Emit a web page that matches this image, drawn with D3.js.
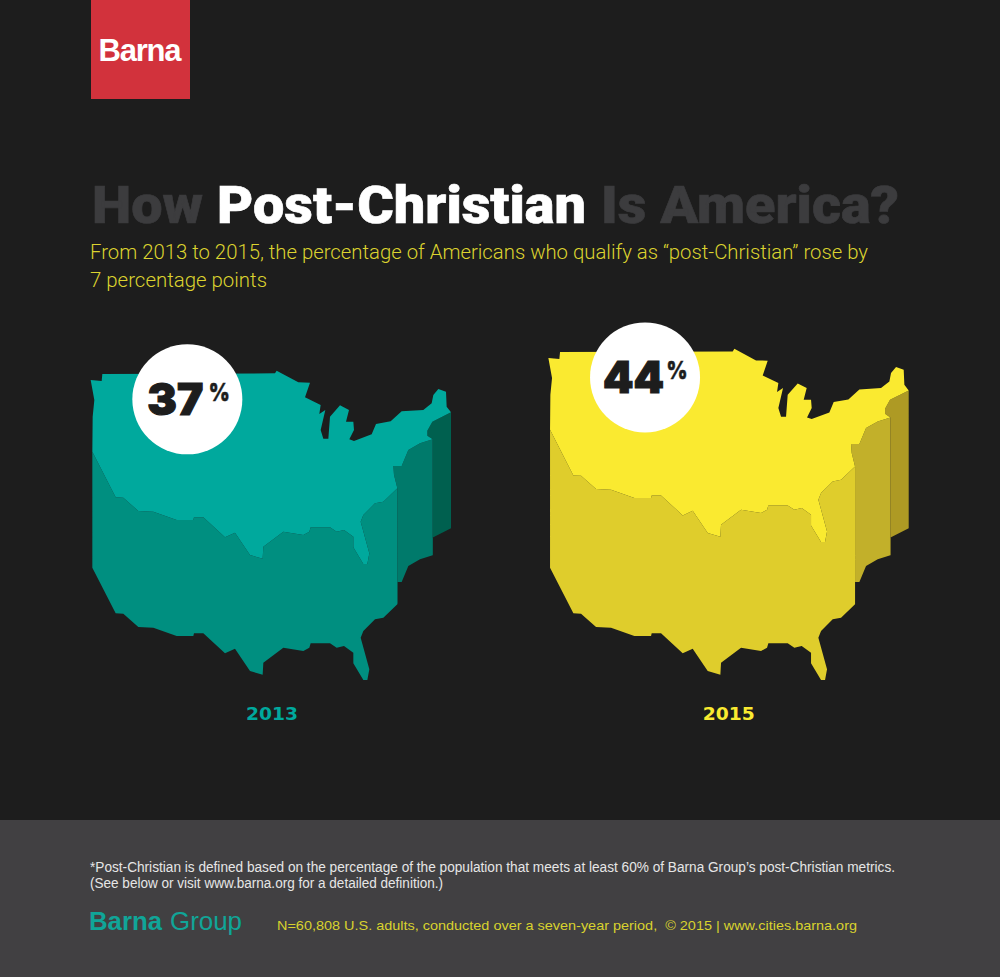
<!DOCTYPE html>
<html>
  <head>
    <meta charset="utf-8" />
    <script src="https://d3js.org/d3.v7.min.js"></script>
    <style>
      html, body { margin: 0; padding: 0; background: #1d1d1d; }
      svg { display: block; }
    </style>
  </head>
  <body>
    <svg id="chart" width="1000" height="977"></svg>
    <script>
      // values
      const years = ["2013", "2015"];
      const shares = [37, 44];

      // map outline, split into the stretches that get their own wall (map units)
      const northBorder = [
        [62, 120], [95, 123], [97, 102], [615, 100], [620, 92], [685, 127], [720, 128],
        [705, 172], [752, 195], [748, 222], [766, 210], [752, 270], [760, 296], [775, 296],
        [780, 230], [810, 196], [837, 210], [828, 245], [850, 245], [852, 270], [838, 298],
        [852, 303], [905, 283], [918, 252], [962, 244], [995, 214], [1060, 210], [1085, 190],
        [1090, 165], [1105, 147], [1128, 155], [1130, 200], [1143, 217],
      ];
      const newEngland = [
        [1143, 217], [1087, 245], [1072, 272], [1072, 287], [1088, 298],
      ];
      const midAtlantic = [
        [1088, 298], [1050, 310], [1015, 330], [995, 378], [970, 378], [972, 405], [982, 445],
      ];
      const southCoast = [
        [982, 445], [940, 485], [915, 490], [880, 525], [872, 545], [898, 640], [892, 672],
        [880, 672], [850, 622], [850, 590], [822, 570], [800, 575], [780, 562], [722, 562],
        [718, 575], [700, 585], [640, 575], [580, 620], [578, 656], [540, 645], [495, 578],
        [465, 592], [400, 532], [372, 532], [370, 540], [320, 540], [250, 515], [205, 513],
        [160, 473], [137, 472], [67, 335],
      ];
      const westCoast = [
        [67, 335], [68, 230], [73, 180], [62, 120],
      ];

      const titleParts = ["How", "Post-Christian", "Is America?"];
      const subtitleLines = [
        "From 2013 to 2015, the percentage of Americans who qualify as “post-Christian” rose by",
        "7 percentage points",
      ];
      const noteLines = [
        "*Post-Christian is defined based on the percentage of the population that meets at least 60% of Barna Group’s post-Christian metrics.",
        "(See below or visit www.barna.org for a detailed definition.)",
      ];
      const sourceLine = "N=60,808 U.S. adults, conducted over a seven-year period,  © 2015 | www.cities.barna.org";

      const palettes = [
        { top: "#00a99d", front: "#008f80", mid: "#007a6b", side: "#00604f" },
        { top: "#faea30", front: "#dfcd2c", mid: "#c2b02a", side: "#ae9a24" },
      ];

      const svg = d3.select("#chart");

      function addText(parent, str, x, y, size, family, weight, fill, width, thicken) {
        const t = parent
          .append("text")
          .attr("x", x)
          .attr("y", y)
          .style("font-family", family)
          .style("font-size", size + "px")
          .style("font-weight", weight)
          .style("fill", fill)
          .attr("xml:space", "preserve")
          .text(str);
        if (width) t.attr("textLength", width).attr("lengthAdjust", "spacingAndGlyphs");
        if (thicken) t.style("stroke", fill).style("stroke-width", thicken).style("stroke-linejoin", "miter");
        return t;
      }

      // background and footer band
      svg.append("rect").attr("width", 1000).attr("height", 977).attr("fill", "#1d1d1d");
      svg.append("rect").attr("y", 820).attr("width", 1000).attr("height", 157).attr("fill", "#414042");

      // logo
      svg.append("rect").attr("x", 91).attr("width", 99).attr("height", 99).attr("fill", "#d2323c");
      addText(svg, "Barna", 98.5, 61, 31, "Liberation Sans", 700, "#fff")
        .attr("textLength", 83)
        .attr("lengthAdjust", "spacing");

      // title
      const titleFont = "Roboto";
      addText(svg, titleParts[0], 92, 223, 51, titleFont, 900, "#3c3c3e", 111, 0.6);
      addText(svg, titleParts[1], 217, 223, 51, titleFont, 900, "#ffffff", 369, 0.6);
      addText(svg, titleParts[2], 601, 223, 51, titleFont, 900, "#3c3c3e", 298, 0.6);

      addText(svg, subtitleLines[0], 90, 259, 21, "Roboto", 300, "#dcd32f", 778);
      addText(svg, subtitleLines[1], 90, 287, 21, "Roboto", 300, "#dcd32f", 177);

      // one extruded map per year, wall height comes from the share
      const riseScale = d3.scaleLinear().domain([0, 100]).range([0, 313.5]);
      const mapLeft = [70, 527.7];

      years.forEach((year, i) => {
        const colors = palettes[i];
        const xScale = d3.scaleLinear().domain([0, 1200]).range([mapLeft[i], mapLeft[i] + 400]);
        const baseY = d3.scaleLinear().domain([0, 1050]).range([456, 806]);
        const rise = riseScale(shares[i]);
        const g = svg.append("g");

        const topLine = d3.line().x((d) => xScale(d[0])).y((d) => baseY(d[1]) - rise);
        const bottomLine = d3.line().x((d) => xScale(d[0])).y((d) => baseY(d[1]));

        // wall = stretch along the top, back along the bottom
        function wall(points, fill) {
          const up = topLine(points);
          const down = bottomLine(points.slice().reverse());
          g.append("path")
            .attr("d", up + "L" + down.slice(1) + "Z")
            .attr("fill", fill);
        }
        wall(newEngland, colors.side);
        wall(midAtlantic, colors.mid);
        wall(southCoast, colors.front);

        const outline = northBorder.concat(newEngland, midAtlantic, southCoast, westCoast);
        g.append("path").attr("d", topLine(outline) + "Z").attr("fill", colors.top);

        // share badge rides on the map surface
        const cx = xScale(352);
        const cy = baseY(178) - rise;
        g.append("circle").attr("cx", cx).attr("cy", cy).attr("r", 55).attr("fill", "#fff");
        const numWidth = i === 0 ? 56 : 61;
        const left = i === 0 ? cx - 40 : cx - 42;
        addText(g, String(shares[i]), left, cy + 16, 44, "Inter", 900, "#1d1d1d", numWidth, 1.2);
        addText(g, "%", cx + 21.5, cy + 1.2, 25, "Inter", 900, "#1d1d1d", 21, 0.4);

        // year label
        addText(g, year, xScale(528) - i, 720, 18, "DejaVu Sans", 700, colors.top, 52);
      });

      // footer text
      addText(svg, noteLines[0], 90, 872, 14, "Liberation Sans", 400, "#e6e6e6", 805);
      addText(svg, noteLines[1], 90, 888, 14, "Liberation Sans", 400, "#e6e6e6", 353);

      const brand = "#10a598";
      addText(svg, "Barna", 89, 929.5, 26, "Liberation Sans", 700, brand, 73);
      addText(svg, "Group", 170, 929.5, 26, "Liberation Sans", 400, brand, 72);

      addText(svg, sourceLine, 277, 930, 13, "Liberation Sans", 400, "#d8d22e", 580);
    </script>
  </body>
</html>
